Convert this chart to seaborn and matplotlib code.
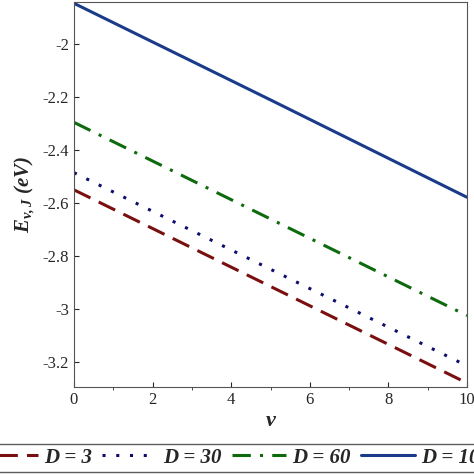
import matplotlib
matplotlib.use("Agg")
import matplotlib.pyplot as plt
import seaborn as sns
import pandas as pd

sns.set_style("ticks")
plt.rcParams['font.family'] = ['Liberation Serif', 'DejaVu Serif']
plt.rcParams['mathtext.fontset'] = 'custom'
plt.rcParams['mathtext.rm'] = 'Liberation Serif:italic:bold'
plt.rcParams['mathtext.it'] = 'Liberation Serif:italic:bold'
plt.rcParams['mathtext.bf'] = 'Liberation Serif:italic:bold'

v = [0, 5, 10]
E_D3 = [-2.55, -2.915, -3.28]
E_D30 = [-2.485, -2.85, -3.215]
E_D60 = [-2.295, -2.66, -3.025]
E_D100 = [-1.845, -2.21, -2.578]
labels = ["D = 3", "D = 30", "D = 60", "D = 100"]
colors = ["#7a0f0f", "#0d0d6b", "#0d6b0d", "#1a3a8a"]
styles = [(0, (6, 3)), (0, (1, 3.5)), (0, (6, 3, 1, 3)), "-"]

fig = plt.figure(figsize=(4.74, 4.74), dpi=100)
ax = fig.add_axes([74/474, 1-387/474, (467-74)/474, 385/474])
for vals, lab, c, ls in zip([E_D3, E_D30, E_D60, E_D100], labels, colors, styles):
    df = pd.DataFrame({"v": v, "E": vals})
    sns.lineplot(data=df, x="v", y="E", ax=ax, color=c, lw=2.2, label=lab)
    ax.lines[-1].set_linestyle(ls)
ax.set_xlim(0, 10)
ax.set_ylim(-3.295, -1.84)
ax.set_xticks(range(0, 11, 2))
ax.set_xticks(range(1, 11, 2), minor=True)
ax.set_yticks([-2, -2.2, -2.4, -2.6, -2.8, -3, -3.2])
ax.set_yticklabels(["-2", "-2.2", "-2.4", "-2.6", "-2.8", "-3", "-3.2"])
ax.tick_params(labelsize=12, direction="in")
ax.set_xlabel("v", fontsize=16, fontweight="bold", style="italic", labelpad=2)
ax.set_ylabel(r"$E_{v,J}\ (eV)$", fontsize=15)
for s in ax.spines.values():
    s.set_color("#555555")
handles, labs = ax.get_legend_handles_labels()
ax.get_legend().remove()
fig.legend(handles, labs, loc="lower center", bbox_to_anchor=(0.5, 0.0), ncol=4, frameon=True,
           fancybox=False, edgecolor="#333333", handlelength=2.6, columnspacing=0.5, handletextpad=0.3,
           borderaxespad=0.1, borderpad=0.2, prop={'size': 15, 'weight': 'bold', 'style': 'italic'})
fig.savefig("out.png", dpi=100)
